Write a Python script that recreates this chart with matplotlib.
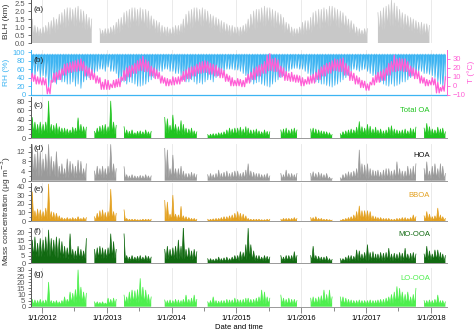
import numpy as np
import matplotlib
matplotlib.use("Agg")
import matplotlib.pyplot as plt
import matplotlib.dates as mdates

nan = np.nan
plt.rcParams["font.family"] = ["Liberation Sans", "DejaVu Sans"]

# monthly time base, Nov 2011 .. Mar 2018
months = np.arange(np.datetime64("2011-11"), np.datetime64("2018-04"), dtype="datetime64[M]")

# each series: two peak values per month (first / second half) and one base value per month
# boundary layer height (km)
blh_pk = [1.5, 1.1, 1.0, 0.9,
          1.0, 1.1, 1.3, 1.4, 1.6, 1.5, 1.8, 1.9, 2.1, 2.2, 2.2, 2.1, 2.2, 2.3, 2.1, 2.0, 1.8, 1.6, 1.5, nan, nan, 0.9, 0.8, 0.9,
          0.9, 1.0, 1.1, 1.3, 1.5, 1.6, 1.9, 2.0, 2.1, 2.2, 2.2, 2.1, 2.2, 2.1, 2.1, 2.0, 1.7, 1.5, 1.4, 1.3, 1.1, 1.0, 1.0, 0.9,
          1.0, 1.1, 1.1, 1.2, 1.5, 1.8, 2.0, 2.1, 2.2, 2.2, 2.1, 2.2, 2.1, 2.0, 1.8, 1.7, 1.6, 1.5, 1.4, 1.3, 1.2, 1.1, 1.1, 1.0,
          1.0, 1.0, 1.1, 1.2, 1.5, 1.8, 2.0, 2.1, 2.1, 2.2, 2.3, 2.2, 2.2, 2.1, 2.0, 1.9, 1.8, 1.6, 1.3, 1.2, 1.0, 0.9, 0.9, 1.0,
          1.3, 1.4, 1.4, 1.6, 1.9, 2.0, 2.1, 2.1, 2.2, 2.1, 2.3, 2.3, 2.2, 2.1, 2.0, 1.9, 1.7, 1.5, 1.4, 1.2, 1.0, 0.9, 0.8, 0.9,
          0.9, nan, nan, nan, 1.9, 2.0, 2.2, 2.3, 2.4, 2.7, 2.5, 2.3, 2.1, 1.9, 1.8, 1.7, 1.6, 1.5, 1.4, 1.3, 1.3, 1.2, 1.2, 1.1,
          nan, nan, nan, nan, nan, nan]
blh_lo = [0.4, 0.4,
          0.4, 0.5, 0.6, 0.8, 0.9, 1.0, 1.0, 0.9, 0.8, 0.6, 0.4, 0.4,
          0.4, 0.5, 0.6, 0.8, 0.9, 1.0, 1.0, 0.9, 0.8, 0.6, 0.4, 0.4,
          0.4, 0.5, 0.6, 0.8, 0.9, 1.0, 1.0, 0.9, 0.8, 0.6, 0.5, 0.4,
          0.4, 0.5, 0.6, 0.8, 0.9, 1.0, 1.0, 0.9, 0.8, 0.6, 0.4, 0.4,
          0.5, 0.5, 0.6, 0.8, 0.9, 1.0, 1.0, 0.9, 0.8, 0.6, 0.4, 0.4,
          0.4, 0.5, 0.6, 0.8, 1.0, 1.0, 0.9, 0.8, 0.7, 0.6, 0.5, 0.4,
          0.4, 0.4, 0.4]

# relative humidity (%): low spikes per half month, upper level per month
rh_pk = [50, 45, 55, 40,
         45, 40, 18, 30, 30, 25, 35, 30, 30, 25, 25, 30, 20, 25, 15, 30, 35, 40, 45, 50, 55, 60, 60, 55,
         65, 55, 55, 50, 35, 30, 30, 25, 30, 28, 25, 20, 20, 22, 25, 30, 35, 40, 45, 55, 55, 60, 60, 55,
         55, 50, 50, 45, 35, 30, 30, 35, 30, 25, 28, 25, 30, 35, 35, 30, 40, 45, 50, 55, 60, 60, 60, 58,
         58, 55, 50, 45, 35, 30, 25, 28, 30, 25, 22, 20, 18, 25, 30, 35, 40, 45, 50, 55, 60, 62, 62, 60,
         60, 55, 50, 45, 35, 30, 28, 25, 25, 22, 20, 18, 22, 25, 30, 35, 40, 45, 55, 60, 58, 55, 58, 60,
         55, 50, 45, 40, 35, 30, 25, 22, 20, 25, 20, 22, 25, 30, 30, 35, 40, 45, 50, 55, 55, 50, 50, 48,
         45, 40, 30, 25, 20, 35]
rh_top = [96] * 77

# temperature (deg C): daily maxima per half month, minima per month
t_pk = [14, 12, 10, 9,
        9, 8, -2, 6, 14, 15, 17, 19, 24, 25, 26, 27, 28, 29, 30, 27, 22, 20, 18, 14, 11, 9, 4, 7,
        6, 2, 6, 7, 8, 10, 17, 20, 22, 23, 25, 28, 30, 33, 29, 27, 22, 20, 18, 15, 11, 9, 8, 7,
        10, 9, 10, 11, 16, 18, 20, 21, 22, 24, 26, 27, 28, 27, 25, 24, 23, 20, 19, 17, 13, 11, 9, 6,
        8, 7, 6, 9, 13, 15, 19, 21, 23, 24, 27, 34, 36, 30, 31, 29, 22, 20, 16, 14, 15, 12, 12, 11,
        9, 7, 10, 11, 13, 15, 18, 21, 23, 25, 26, 28, 30, 29, 30, 31, 25, 22, 16, 14, 11, 9, 6, 5,
        2, 4, 9, 12, 15, 16, 18, 20, 25, 27, 34, 30, 31, 30, 30, 27, 22, 20, 18, 16, 11, 9, 7, 6,
        9, 8, 4, -2, 0, 10]
t_lo = [5, 2,
        1, -9, 4, 7, 12, 15, 16, 17, 11, 7, 3, -4,
        -4, -2, -1, 6, 10, 14, 17, 16, 11, 8, 3, 0,
        1, 2, 5, 8, 11, 14, 15, 13, 11, 9, 5, 0,
        0, -1, 3, 7, 11, 14, 17, 16, 10, 6, 5, 4,
        0, 2, 3, 7, 11, 14, 17, 16, 12, 6, 2, -2,
        -5, 1, 4, 6, 12, 16, 17, 16, 11, 8, 3, 0,
        1, -8, -6]

# organic aerosol factors (ug m-3)
oa_pk = [45, 35, 30, 35,
         30, 35, 80, 30, 28, 32, 25, 22, 22, 20, 18, 24, 22, 44, 30, 25, 24, nan, nan, 15, 22, 26, 28, 30,
         25, 80, 35, 28, nan, nan, 25, 18, 15, 18, 12, 15, 16, 14, 18, 14, 15, nan, nan, nan, nan, 45, 42, 28,
         50, 30, 25, 38, 30, 22, 20, 22, 16, 14, nan, nan, nan, 8, 9, 10, 10, 12, 12, 14, 18, 22, 20, 22,
         22, 24, 20, 25, 22, 18, 18, 20, 16, 14, 18, 15, 14, nan, nan, nan, 18, 20, 22, 18, 20, 22, 18, nan,
         nan, nan, nan, 20, 22, 20, 18, 16, 15, 14, 12, 8, nan, nan, 10, 14, 16, 18, 20, 18, 24, 36, 25, 22,
         30, 26, 20, 24, 18, 20, 16, 18, 24, 27, 20, 18, 16, 18, 20, 16, 22, 20, 24, nan, nan, 22, 32, 25,
         20, 18, 24, 20, 22, 14]
oa_lo = [10, 10,
         8, 10, 8, 8, 7, 7, 8, 8, 8, 6, 8, 8,
         8, 8, 6, 5, 5, 5, 5, 5, 5, 5, 10, 10,
         10, 8, 7, 6, 5, 4, 3, 3, 3, 4, 5, 6,
         6, 6, 5, 5, 5, 5, 4, 4, 5, 5, 6, 6,
         6, 6, 6, 5, 5, 4, 3, 4, 5, 6, 7, 7,
         7, 6, 6, 5, 6, 5, 5, 5, 5, 6, 6, 7,
         6, 6, 5]

hoa_pk = [15, 11, 13, 12,
          9, 11, 15, 10, 8, 12, 6, 7, 5, 9, 8, 7, 6, 8.5, 8, 5, 7, nan, nan, 4, 6, 5, 6, 5,
          6, 15, 7, 5, nan, nan, 5.8, 2.5, 2, 2.5, 2, 1.8, 2.2, 2, 2.5, 2, 2, nan, nan, nan, nan, 13.4, 12.7, 5,
          10.6, 5, 5, 6, 4, 3, 3, 3.5, 3, 2.5, nan, nan, nan, 2.5, 3, 2.5, 3, 4.4, 3, 3.5, 4, 3, 3.5, 4,
          4, 3, 3.5, 4.4, 7, 4, 3.5, 3, 3, 2.5, 2.5, 3, 2, nan, nan, nan, 3, 2.5, 4.4, 3, 3, 2.5, 3, nan,
          nan, nan, nan, 3, 3.7, 3, 3.5, 3, 2.5, 3, 1.5, 1, nan, nan, 1.2, 2.5, 3, 3.7, 3.5, 4, 5, 12.7, 7, 6.5,
          7, 5, 4.4, 4, 4.4, 3.5, 4.4, 5, 5, 4, 4.5, 7.8, 5, 4, 4, 6, 5, 6, 7, nan, nan, 5, 7.8, 4,
          6, 7, 5, 7, 6, 3]
hoa_lo = [1.5, 1.5,
          1.5, 1.5, 1.5, 1, 1, 1, 1, 1, 1, 1, 1, 1,
          1, 1, 0.5, 0.5, 0.4, 0.4, 0.4, 0.4, 0.4, 0.4, 1, 1,
          1, 0.8, 0.6, 0.5, 0.5, 0.4, 0.4, 0.4, 0.4, 0.5, 0.5, 0.5,
          0.6, 0.6, 0.6, 0.5, 0.5, 0.4, 0.4, 0.4, 0.5, 0.5, 0.5, 0.5,
          0.5, 0.5, 0.5, 0.4, 0.4, 0.3, 0.3, 0.3, 0.4, 0.5, 0.8, 0.8,
          0.7, 0.6, 0.5, 0.5, 0.5, 0.5, 0.5, 0.5, 0.5, 0.6, 0.6, 0.7,
          0.7, 0.7, 0.5]

bboa_pk = [34, 12, 14, 13,
           11, 15, 43, 11, 10, 9, 6, 4, 3, 4, 3, 4, 3, 5, 3, 4, 4, nan, nan, 5, 9, 12, 13, 10,
           11, 37, 11, 9, nan, nan, 13, 3, 2, 2, 2, 1.5, 1.5, 2, 2, 2, 2, nan, nan, nan, nan, 24, 22, 8,
           30, 8, 7, 17, 6, 5, 4, 3, 3, 2, nan, nan, nan, 2, 2, 2.5, 3, 3, 4, 5, 5, 6, 7, 9,
           11, 9, 8, 6, 3, 2, 2, 2, 2, 1.5, 1.5, 2, 2, nan, nan, nan, 2, 3, 3, 3, 3, 4, 3, nan,
           nan, nan, nan, 4, 4, 5, 3, 3, 2, 2, 1.5, 1, nan, nan, 1, 2, 3, 4, 5, 7, 11, 17.5, 12, 12,
           12, 11, 6, 5, 4, 4, 3, 3, 3, 2, 2, 3, 3, 4, 4, 3, 4, 7, 5, nan, nan, 6, 11, 8,
           5, 6, 15, 7, 5, 3]
bboa_lo = [1.5, 1.5,
           1.5, 1.5, 1, 0.8, 0.5, 0.5, 0.5, 0.5, 0.5, 0.8, 1, 1,
           1.2, 1, 0.5, 0.5, 0.3, 0.3, 0.3, 0.3, 0.3, 0.3, 1.5, 1.5,
           1.2, 1, 0.8, 0.5, 0.4, 0.3, 0.3, 0.3, 0.3, 0.5, 0.6, 0.8,
           0.8, 0.6, 0.4, 0.3, 0.3, 0.3, 0.3, 0.3, 0.3, 0.4, 0.5, 0.5,
           0.5, 0.5, 0.5, 0.4, 0.3, 0.3, 0.3, 0.3, 0.4, 0.6, 1, 1,
           1, 0.6, 0.5, 0.4, 0.3, 0.3, 0.3, 0.3, 0.5, 0.5, 0.6, 0.8,
           0.6, 0.8, 0.5]

mooa_pk = [15, 17, 13, 16,
           15, 17, 21.5, 16, 15, 17, 16, 14, 11, 10, 19, 9, 8, 11, 9, 8, 16, nan, nan, 9, 10, 11, 10, 9,
           10, 19, 14, 9, nan, nan, 19, 5, 4, 5, 4, 4.5, 5, 4, 5, 4.5, 4, nan, nan, nan, nan, 9, 11, 9,
           10, 11, 15, 11, 23.6, 9, 10, 8, 9, 7.5, nan, nan, nan, 3, 3, 2.5, 3, 4, 3, 3.5, 4, 3, 4, 5,
           5, 7.5, 7, 12, 22.6, 12, 8, 5, 5, 4, 5, 4.5, 4, nan, nan, nan, 5, 4, 5, 5, 5, 7.5, 5, nan,
           nan, nan, nan, 5, 11, 5, 4.5, 4, 4, 4.5, 3, 2.5, nan, nan, 3, 3, 4, 5, 5, 4.5, 8.6, 8, 6, 7,
           12, 7, 7.5, 6, 6, 7, 6.5, 7, 9.7, 6, 6.5, 6, 7, 6.5, 9.7, 6, 6.5, 7, 6, nan, nan, 6, 11, 8,
           6, 8.6, 8.6, 7, 6, 5]
mooa_lo = [4, 4,
           4, 4, 4, 3, 3, 2.5, 2.5, 2.5, 3, 3, 3, 3,
           3, 3, 1.5, 1.5, 1.5, 1.5, 1.5, 1.5, 1.5, 1.5, 2.5, 2.5,
           2.5, 2.5, 2.5, 2, 2, 1, 1, 1, 1, 1, 1, 1.5,
           1.5, 2, 2, 1.5, 1.5, 1.5, 1.5, 1.5, 1.5, 1.5, 1.5, 1.5,
           1.5, 1.5, 1.5, 1.5, 1.2, 1, 1, 1, 1.2, 1.2, 1.5, 1.5,
           1.5, 1.5, 1.5, 1.5, 1.5, 1.5, 1.5, 1.5, 1.5, 1.5, 1.5, 2,
           2, 2, 1.5]

looa_pk = [6, 5.5, 5, 6,
           5, 5.5, 20, 5, 4.5, 5, 4, 5, 8, 6, 12, 11, 14, 30, 16, 12, 11, nan, nan, 4, 4, 3.5, 4, 3,
           7, 6, 7, 6, nan, nan, 9.5, 8, 12, 13.6, 13, 14, 23, 16, 13.6, 10, 8, nan, nan, nan, nan, 5.5, 5, 5.5,
           5, 6, 5.5, 5, 6, 9.5, 6, 7, 9.5, 6, nan, nan, nan, 4, 5, 8, 5, 4.5, 5, 5, 6, 5.5, 5.5, 7,
           6, 5.5, 6, 7, 7, 6, 6, 7, 8, 13.6, 12, 8, 7, nan, nan, nan, 9.5, 7, 6, 7, 6, 6, 5, nan,
           nan, nan, nan, 7, 8, 7, 8, 9, 13.6, 10, 13.6, 8, nan, nan, 8, 8, 7, 6, 5.5, 5, 5, 5.5, 5, 5,
           5, 5.5, 5, 5, 5.5, 6, 6, 7, 8, 10, 12, 16.4, 15, 12, 10, 12, 8, 10, 15, nan, nan, 5, 5, 5.5,
           5, 6, 9.5, 5, 5, 4]
looa_lo = [1.5, 1.5,
           1.5, 1.5, 1.5, 1.5, 2, 2.5, 3, 3, 2.5, 1.5, 1.5, 1.5,
           1.5, 1.5, 2, 2, 2.5, 3, 3, 2.5, 2, 2, 1.5, 1.5,
           1.5, 1.5, 1.5, 1.5, 1.5, 1.5, 1.5, 1.5, 1.5, 1.5, 1.5, 1.5,
           1.5, 1.5, 1.5, 1.5, 2, 2, 2, 2, 2, 1.5, 1.5, 1.5,
           1.5, 1.5, 1.5, 2, 2, 2, 2, 2, 1.5, 1.5, 1.5, 1.5,
           1.5, 1.5, 1.5, 1.5, 2.5, 2.5, 2.5, 2, 2, 1.5, 1.5, 1.5,
           1.5, 1.5, 1.5]


def zigzag(pk, base):
    """base, peak, base, peak points for every month; base points next to a gap are dropped."""
    pk = np.asarray(pk, float).reshape(-1, 2)
    base = np.asarray(base, float)
    offs = np.array([0, 7, 15, 22]).astype("timedelta64[D]")
    t = (months.astype("datetime64[D]")[:, None] + offs[None, :]).ravel()
    y = np.column_stack([base, pk[:, 0], base, pk[:, 1]]).ravel()
    prev = np.r_[y[1], y[:-1]]
    nxt = np.r_[y[1:], y[-2]]
    is_base = np.tile([True, False, True, False], len(base))
    y[is_base & (np.isnan(prev) | np.isnan(nxt))] = nan
    return mdates.date2num(t), y


W, H = 474, 332
fig = plt.figure(figsize=(W / 100, H / 100), dpi=100)


def panel(top, bot):
    return fig.add_axes([31 / W, 1 - bot / H, 416 / W, (bot - top) / H])


x0 = mdates.date2num(np.datetime64("2011-11-01"))
x1 = mdates.date2num(np.datetime64("2018-04-01"))
years = [mdates.date2num(np.datetime64(f"{y}-01-01")) for y in range(2012, 2019)]
mids = [mdates.date2num(np.datetime64(f"{y}-07-01")) for y in range(2012, 2018)]

fs = 5.5
axc = "#555555"


def style(ax, color=axc):
    for s in ["top", "right"]:
        ax.spines[s].set_visible(False)
    ax.spines["left"].set_color(color)
    ax.spines["left"].set_linewidth(0.7)
    ax.spines["bottom"].set_color("#999999")
    ax.spines["bottom"].set_linewidth(0.7)
    ax.tick_params(axis="y", labelsize=fs, colors=color, length=2.5, width=0.6, pad=1.5)
    ax.tick_params(axis="y", which="minor", length=1.5, width=0.5, colors=color)
    ax.set_xticks(years)
    ax.set_xticks(mids, minor=True)
    ax.tick_params(axis="x", which="both", length=0, labelbottom=False)
    for yv in years:
        ax.axvline(yv, color="#e6e6e6", lw=0.6, zorder=0)
    ax.set_xlim(x0, x1)
    ax.patch.set_alpha(0)


def letter(ax, s, yf):
    ax.text(0.006, yf, s, transform=ax.transAxes, fontsize=6, va="center", ha="left", color="#222222")


# (a) boundary layer height
ax = panel(0, 43)
style(ax)
t, y = zigzag(blh_pk, blh_lo)
ax.fill_between(t, y, 0, color="#c8c8c8", lw=0)
ax.plot(t, y, color="#c8c8c8", lw=0.5)
ax.set_ylim(0, 2.6875)
ax.set_yticks([0, 0.5, 1.0, 1.5, 2.0, 2.5])
ax.yaxis.set_major_formatter(matplotlib.ticker.FormatStrFormatter("%.1f"))
ax.spines["bottom"].set_visible(False)
letter(ax, "(a)", 0.79)

# (b) relative humidity and temperature
blue, pink = "#3db4f2", "#ff5fd6"
ax = panel(50, 94.7)
style(ax, blue)
t, y = zigzag(rh_pk, rh_top)
ax.fill_between(t, y, np.repeat(rh_top, 4), color=blue, lw=0)
ax.plot(t, y, color=blue, lw=0.5)
ax.set_ylim(0, 105.4)
ax.set_yticks(range(0, 101, 20))
ax.spines["bottom"].set_color(blue)
ax.spines["bottom"].set_linewidth(0.9)
axt = ax.twinx()
t, y = zigzag(t_pk, t_lo)
axt.plot(t, y, color=pink, lw=0.9)
axt.set_ylim(-10, 40.08)
axt.set_yticks(range(-10, 31, 10))
axt.set_xlim(x0, x1)
for s in ["top", "left", "bottom"]:
    axt.spines[s].set_visible(False)
axt.spines["right"].set_color(pink)
axt.spines["right"].set_linewidth(0.7)
axt.tick_params(axis="y", labelsize=fs, colors=pink, length=2.5, width=0.6, pad=1.5)
axt.set_ylabel("T (°C)", color=pink, fontsize=fs + 0.5, labelpad=1)
letter(ax, "(b)", 0.776)
fig.text(7 / W, 1 - 72 / H, "RH (%)", rotation=90, color=blue, fontsize=fs + 0.5, ha="center", va="center")
fig.text(7 / W, 1 - 21 / H, "BLH (km)", rotation=90, color="#333333", fontsize=fs + 0.5, ha="center", va="center")

# (c)-(g) organic aerosol factors
factors = [
    ("Total OA", oa_pk, oa_lo, "#1fc41f", "#1fc41f", (97, 138.3), 88.8, range(0, 81, 20), 10, "(c)", 0.806, 0.685),
    ("HOA", hoa_pk, hoa_lo, "#9a9a9a", "#111111", (144, 180.7), 15.2, range(0, 13, 4), 2, "(d)", 0.883, 0.70),
    ("BBOA", bboa_pk, bboa_lo, "#e3a01e", "#e3a01e", (183, 221), 44.3, range(0, 41, 10), 5, "(e)", 0.834, 0.66),
    ("MO-OOA", mooa_pk, mooa_lo, "#116a11", "#116a11", (228, 263.3), 22.8, range(0, 21, 5), 2.5, "(f)", 0.895, 0.83),
    ("LO-OOA", looa_pk, looa_lo, "#4def4d", "#4def4d", (268, 306.7), 31.6, range(0, 31, 5), 2.5, "(g)", 0.82, 0.716),
]
for name, pk, lo, col, tcol, (top, bot), ymax, ticks, minor, lab, ly, ny in factors:
    ax = panel(top, bot)
    style(ax)
    t, y = zigzag(pk, lo)
    ax.fill_between(t, y, 0, color=col, lw=0)
    ax.plot(t, y, color=col, lw=0.5)
    ax.set_ylim(0, ymax)
    ax.set_yticks(list(ticks))
    ax.yaxis.set_minor_locator(matplotlib.ticker.MultipleLocator(minor))
    letter(ax, lab, ly)
    ax.text(0.959, ny, name, transform=ax.transAxes, color=tcol, fontsize=fs, ha="right", va="center")

# date axis on the bottom panel
ax.tick_params(axis="x", which="major", length=4, width=0.6, color="#777777", labelbottom=True, labelsize=fs, pad=2)
ax.tick_params(axis="x", which="minor", length=3, width=0.6, color="#777777")
ax.set_xticklabels([f"1/1/{y}" for y in range(2012, 2019)])
ax.set_xlabel("Date and time", fontsize=fs, labelpad=1.5)

fig.text(6 / W, 1 - 211 / H, "Mass concentration (μg m$^{-3}$)", rotation=90, color="#333333",
         fontsize=fs + 0.5, ha="center", va="center")

fig.savefig("out.png", dpi=100)
